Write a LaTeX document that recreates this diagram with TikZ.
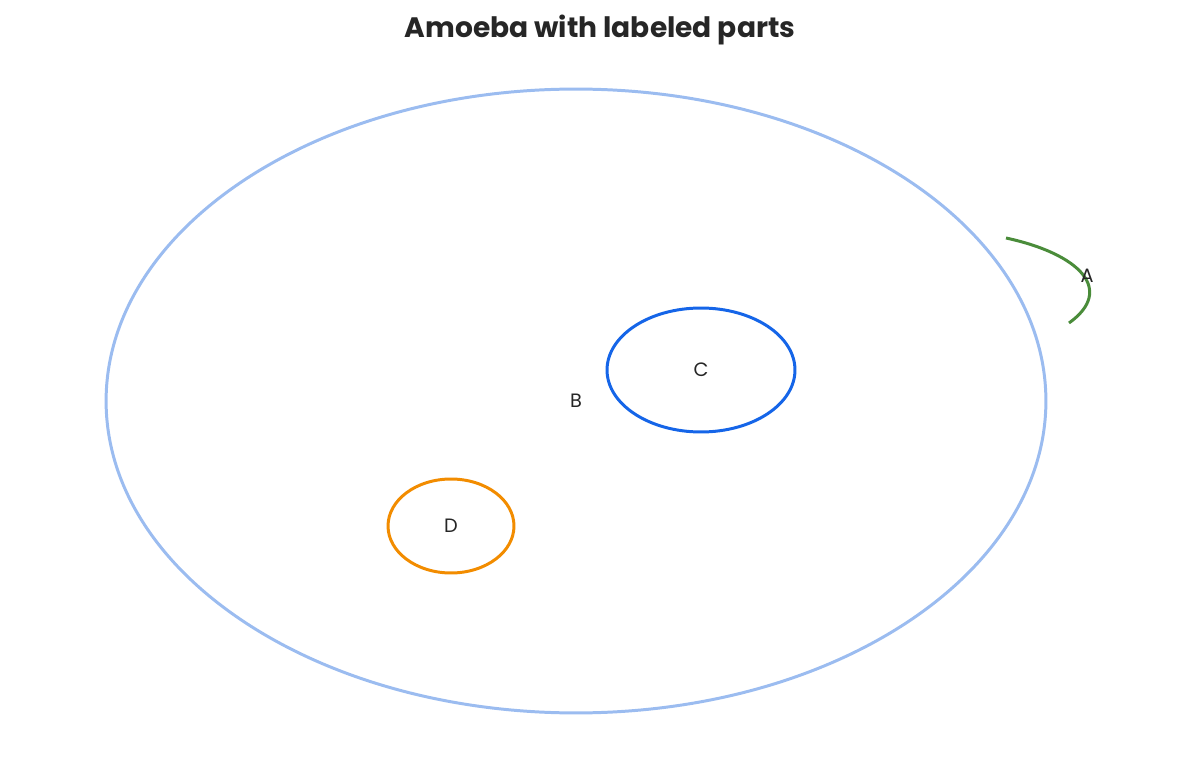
\documentclass[tikz,border=0pt]{standalone}
\usepackage{fontspec}
\setmainfont{Poppins}
\usetikzlibrary{positioning,shapes.geometric}
\definecolor{membrane}{HTML}{9BBCF0}
\definecolor{nucleus}{HTML}{1565E8}
\definecolor{vacuole}{HTML}{F28C00}
\definecolor{pseudo}{HTML}{4A8C3A}
\tikzset{
  part/.style={ellipse, draw, line width=1.7pt, inner sep=0pt},
  lbl/.style={font=\fontsize{11}{13}\selectfont, text=black!85},
}
\begin{document}
\begin{tikzpicture}[x=0.02cm, y=-0.02cm]
\useasboundingbox (0,0) rectangle (1200,763);
%Title
\node[font=\bfseries\fontsize{16}{19}\selectfont, text=black!85] (title) at (600,30) {Amoeba with labeled parts};

%Parts
\node[part, draw=membrane, minimum width=18.8cm, minimum height=12.48cm] (cell) at (576,401) {};
\node[part, draw=nucleus, minimum width=3.76cm, minimum height=2.48cm] (nuc) at (701,370) {};
\node[part, draw=vacuole, minimum width=2.52cm, minimum height=1.88cm] (vac) at (451,526) {};
\coordinate (pA) at (1006,238);
\coordinate (pB) at (1069,323);
\draw[pseudo, line width=1.7pt] (pA) .. controls (1080,254) and (1115,290) .. (pB);

%Labels
\node[lbl] (labA) at (1087,276) {A};
\node[lbl] (labB) at (576,401) {B};
\node[lbl] (labC) at (nuc) {C};
\node[lbl] (labD) at (vac) {D};
\end{tikzpicture}
\end{document}
